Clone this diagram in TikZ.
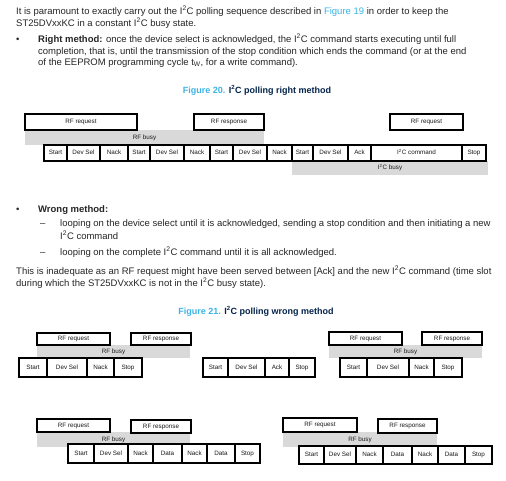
\documentclass[tikz,border=0pt]{standalone}
\usepackage{fontspec}
\setmainfont{Liberation Sans}
\usepackage{xcolor}
\usetikzlibrary{positioning}
\definecolor{stblue}{HTML}{3CB4E6}
\definecolor{stnavy}{HTML}{03234B}
\definecolor{txt}{HTML}{262626}
\definecolor{busygray}{HTML}{D9D9D9}
\tikzset{
	seg/.style={draw, line width=1.8pt, fill=white, inner sep=0pt, outer sep=0pt,
		text height=4.6pt, text depth=1.3pt,
		font=\fontsize{6.3}{7}\selectfont, text=black!90},
	band/.style={fill=busygray, inner sep=0pt, outer sep=0pt,
		text height=4.6pt, text depth=1.3pt,
		font=\fontsize{6.3}{7}\selectfont, text=black!90},
	body/.style={anchor=base west, inner sep=0pt, font=\fontsize{9.5}{11}\selectfont, text=txt},
	caption/.style={anchor=base, inner sep=0pt, font=\fontsize{9}{10}\selectfont\bfseries}
}
\newcommand{\Isq}{I\textsuperscript{2}C}

\begin{document}
\begin{tikzpicture}[x=1pt, y=-1pt]
			\useasboundingbox[fill=white] (0,0) rectangle (506,480);
			
			% Text above Figure 20
			\node[body] (t1) at (16,14) {It is paramount to exactly carry out the \Isq{} polling sequence described in \textcolor{stblue}{Figure 19} in order to keep the};
			\node[body] (t2) at (16,26.7) {ST25DVxxKC in a constant \Isq{} busy state.};
			\node[body] (b1) at (16,42.7) {•};
			\node[body] (t3) at (38,42.7) {\textbf{Right method:} once the device select is acknowledged, the \Isq{} command starts executing until full};
			\node[body] (t4) at (38,54.3) {completion, that is, until the transmission of the stop condition which ends the command (or at the end};
			\node[body] (t5) at (38,65.5) {of the EEPROM programming cycle t\textsubscript{W}, for a write command).};
			
			% Figure 20
			\node[caption] (cap20) at (257,93) {\textcolor{stblue}{Figure 20.} \textcolor{stnavy}{\Isq{} polling right method}};
			\node[band, minimum width=239pt, minimum height=15pt, anchor=north west] (rfbusyA) at (25,130) {RF busy};
			\node[band, minimum width=196pt, minimum height=14pt, anchor=north west] (i2cbusyA) at (292,161) {\Isq{} busy};
			\node[seg, minimum width=112pt, minimum height=16pt, anchor=north west] (reqA) at (25,114) {RF request};
			\node[seg, minimum width=70pt, minimum height=16pt, anchor=north west] (respA) at (194,114) {RF response};
			\node[seg, minimum width=73pt, minimum height=16pt, anchor=north west] (reqB) at (390,114) {RF request};
			\foreach \a/\b/\t [count=\i] in {44/67/Start, 67/100/Dev Sel, 100/128/Nack,
				128/150/Start, 150/184/Dev Sel, 184/210/Nack, 210/233/Start, 233/267/Dev Sel,
				267/292/Nack, 292/313/Start, 313/348/Dev Sel, 348/371/Ack,
				371/462/\Isq{} command, 462/486/Stop}
			{\pgfmathsetmacro\w{\b-\a}
				\node[seg, minimum width=\w pt, minimum height=16pt, anchor=north west] (r-\i) at (\a,145) {\t};}
			
			% Text between the figures
			\node[body] (b2) at (16,212.3) {•};
			\node[body] (t6) at (38,212.3) {\textbf{Wrong method:}};
			\node[body] (d1) at (40,226.7) {–};
			\node[body] (t7) at (60,226.7) {looping on the device select until it is acknowledged, sending a stop condition and then initiating a new};
			\node[body] (t8) at (60,239.3) {\Isq{} command};
			\node[body] (d2) at (40,255) {–};
			\node[body] (t9) at (60,255) {looping on the complete \Isq{} command until it is all acknowledged.};
			\node[body] (t10) at (16,274) {This is inadequate as an RF request might have been served between [Ack] and the new \Isq{} command (time slot};
			\node[body] (t11) at (16,286.7) {during which the ST25DVxxKC is not in the \Isq{} busy state).};
			
			% Figure 21
			\node[caption] (cap21) at (256,314.7) {\textcolor{stblue}{Figure 21.} \textcolor{stnavy}{\Isq{} polling wrong method}};
			% top left
			\node[band, minimum width=153pt, minimum height=13pt, anchor=north west] (rfbusyC) at (37,345) {RF busy};
			\node[seg, minimum width=73pt, minimum height=12pt, anchor=north west] (reqC) at (37,333) {RF request};
			\node[seg, minimum width=60pt, minimum height=12pt, anchor=north west] (respC) at (131,333) {RF response};
			\foreach \a/\b/\t [count=\i] in {19/47/Start, 47/87/Dev Sel, 87/114/Nack, 114/142/Stop}
			{\pgfmathsetmacro\w{\b-\a}
				\node[seg, minimum width=\w pt, minimum height=19pt, anchor=north west] (c-\i) at (\a,358) {\t};}
			% top middle
			\foreach \a/\b/\t [count=\i] in {203/228/Start, 228/265/Dev Sel, 265/289/Ack, 289/315/Stop}
			{\pgfmathsetmacro\w{\b-\a}
				\node[seg, minimum width=\w pt, minimum height=19pt, anchor=north west] (m-\i) at (\a,358) {\t};}
			% top right
			\node[band, minimum width=153pt, minimum height=13pt, anchor=north west] (rfbusyE) at (329,345) {RF busy};
			\node[seg, minimum width=73pt, minimum height=13pt, anchor=north west] (reqE) at (329,332) {RF request};
			\node[seg, minimum width=60pt, minimum height=13pt, anchor=north west] (respE) at (422,332) {RF response};
			\foreach \a/\b/\t [count=\i] in {340/367/Start, 367/409/Dev Sel, 409/434/Nack, 434/462/Stop}
			{\pgfmathsetmacro\w{\b-\a}
				\node[seg, minimum width=\w pt, minimum height=19pt, anchor=north west] (e-\i) at (\a,358) {\t};}
			% bottom left
			\node[band, minimum width=153pt, minimum height=15pt, anchor=north west] (rfbusyF) at (37,432) {RF busy};
			\node[seg, minimum width=73pt, minimum height=13pt, anchor=north west] (reqF) at (37,419) {RF request};
			\node[seg, minimum width=60pt, minimum height=13pt, anchor=north west] (respF) at (131,420) {RF response};
			\foreach \a/\b/\t [count=\i] in {68/94/Start, 94/128/Dev Sel, 128/153/Nack, 153/182/Data,
				182/207/Nack, 207/235/Data, 235/260/Stop}
			{\pgfmathsetmacro\w{\b-\a}
				\node[seg, minimum width=\w pt, minimum height=19pt, anchor=north west] (f-\i) at (\a,444) {\t};}
			% bottom right
			\node[band, minimum width=154pt, minimum height=15pt, anchor=north west] (rfbusyG) at (283,432) {RF busy};
			\node[seg, minimum width=74pt, minimum height=14pt, anchor=north west] (reqG) at (283,418) {RF request};
			\node[seg, minimum width=59pt, minimum height=14pt, anchor=north west] (respG) at (378,419) {RF response};
			\foreach \a/\b/\t [count=\i] in {299/324/Start, 324/356/Dev Sel, 356/383/Nack, 383/412/Data,
				412/438/Nack, 438/465/Data, 465/492/Stop}
			{\pgfmathsetmacro\w{\b-\a}
				\node[seg, minimum width=\w pt, minimum height=18pt, anchor=north west] (g-\i) at (\a,446) {\t};}
		\end{tikzpicture}
\end{document}
